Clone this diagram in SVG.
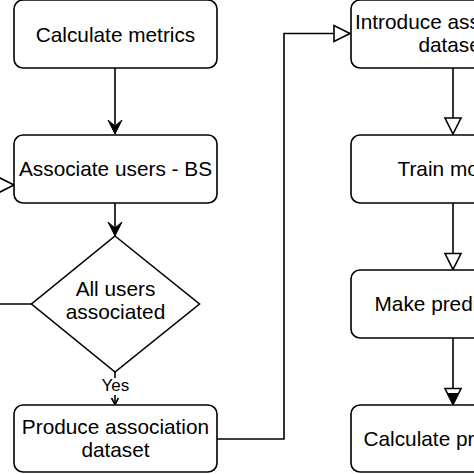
<svg xmlns="http://www.w3.org/2000/svg" width="474" height="474" viewBox="0 0 474 474">
<style>
  .box { fill: #ffffff; stroke: #000000; stroke-width: 1.6; }
  .lbl { font-family: "Liberation Sans", Arial, sans-serif; font-size: 20.8px; fill: #000000; }
  .mid { text-anchor: middle; }
  .edge { fill: none; stroke: #000000; stroke-width: 1.6; }
  .yes { font-family: "Liberation Sans", Arial, sans-serif; font-size: 17px; fill: #000000; text-anchor: middle; }
</style>
<defs>
  <marker id="classic" markerUnits="userSpaceOnUse" orient="auto" refX="0" refY="0" overflow="visible">
    <path d="M0,0 L-14,-7 L-8,0 L-14,7 Z" fill="#000000" stroke="#000000" stroke-width="1"/>
  </marker>
  <marker id="open" markerUnits="userSpaceOnUse" orient="auto" refX="0" refY="0" overflow="visible">
    <path d="M0,0 L-16,-8 L-16,8 Z" fill="#ffffff" stroke="#000000" stroke-width="1.6" stroke-linejoin="miter"/>
  </marker>
</defs>
<rect width="474" height="474" fill="#ffffff"/>

<g id="connectors">
  <path class="edge" d="M115,68 L115,134" marker-end="url(#classic)"/>
  <path class="edge" d="M115,203 L115,236" marker-end="url(#classic)"/>
  <path class="edge" d="M115,372 L115,404"/>
  <path class="edge" d="M111.5,398 L115,404.5 L118.5,398"/>
  <path class="edge" d="M32,304 L-20,304 L-20,185 L14,185" marker-end="url(#open)"/>
  <path class="edge" d="M217,439 L284,439 L284,33.5 L350,33.5" marker-end="url(#open)"/>
  <path class="edge" d="M453,68 L453,134" marker-end="url(#open)"/>
  <path class="edge" d="M453,203 L453,269.5" marker-end="url(#open)"/>
  <path class="edge" d="M453,338 L453,404.5" marker-end="url(#open)"/>
  <path d="M447,393 L459,393 L453,405 Z" fill="#000000"/>
  <rect x="100" y="378" width="31" height="17" fill="#ffffff"/>
  <text class="yes" x="115.3" y="391">Yes</text>
</g>

<g id="calc-metrics">
  <rect class="box" x="14" y="0" width="203" height="68" rx="9"/>
  <text class="lbl mid" x="115.5" y="41.7">Calculate metrics</text>
</g>
<g id="associate-users">
  <rect class="box" x="14" y="135" width="203" height="68" rx="9"/>
  <text class="lbl mid" x="115.5" y="176">Associate users - BS</text>
</g>
<g id="all-associated">
  <path class="box" d="M115,236 L199.5,304 L115,372 L31.5,304 Z"/>
  <text class="lbl mid" x="115.5" y="296">All users</text>
  <text class="lbl mid" x="115.5" y="318.7">associated</text>
</g>
<g id="produce-dataset">
  <rect class="box" x="14" y="405" width="203" height="67" rx="9"/>
  <text class="lbl mid" x="115.5" y="434">Produce association</text>
  <text class="lbl mid" x="115.5" y="457">dataset</text>
</g>
<g id="introduce-dataset">
  <rect class="box" x="351" y="0" width="203" height="68" rx="9"/>
  <text class="lbl" x="355" y="29.3">Introduce association</text>
  <text class="lbl mid" x="452.5" y="51.8">dataset</text>
</g>
<g id="train-model">
  <rect class="box" x="351" y="135" width="203" height="68" rx="9"/>
  <text class="lbl" x="397.5" y="175.8">Train model</text>
</g>
<g id="make-predictions">
  <rect class="box" x="351" y="270" width="203" height="68" rx="9"/>
  <text class="lbl" x="374.5" y="311.2">Make predictions</text>
</g>
<g id="calc-precision">
  <rect class="box" x="351" y="405" width="203" height="67" rx="9"/>
  <text class="lbl" x="363.5" y="446">Calculate precision</text>
</g>
</svg>
